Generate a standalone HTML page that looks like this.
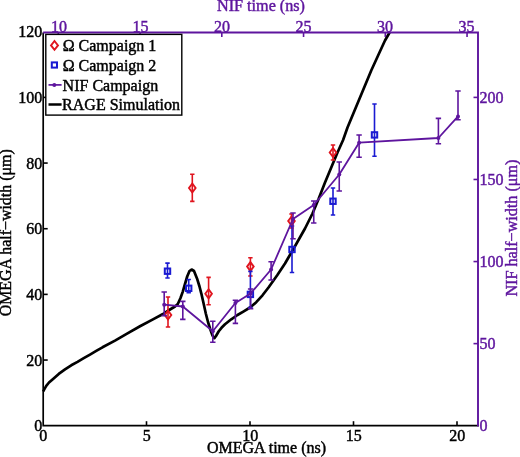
<!DOCTYPE html>
<html><head><meta charset="utf-8"><title>Half-width vs time</title>
<style>html,body{margin:0;padding:0;background:#fff}svg{display:block}text{font-family:"Liberation Serif",serif;font-size:16px;stroke-width:0.45px}.k{fill:#000;stroke:#000}.p{fill:#5e159e;stroke:#5e159e}.t{font-size:16px}</style></head><body>
<svg width="520" height="457" viewBox="0 0 520 457">
<rect width="520" height="457" fill="#fff"/>
<path d="M43.20 391.50 L44.50 389.00 L46.25 385.80 L49.00 382.50 L52.50 379.40 L58.75 373.90 L65.00 369.40 L71.25 365.30 L77.50 361.90 L83.75 358.20 L90.00 354.60 L96.25 350.90 L102.50 347.30 L115.00 340.60 L127.50 333.30 L140.00 326.30 L152.50 319.60 L162.50 314.30 L170.00 309.50 L175.00 306.50 L177.80 304.00 L180.50 298.00 L182.80 291.60 L185.00 284.00 L187.20 276.50 L189.50 271.00 L191.60 269.50 L194.00 271.00 L197.00 278.40 L199.50 286.50 L201.40 293.80 L203.50 303.00 L205.80 313.50 L208.00 322.00 L210.20 329.00 L212.50 335.50 L214.40 338.20 L216.00 336.00 L218.75 331.25 L221.50 327.80 L225.00 324.30 L231.25 319.30 L237.50 315.00 L243.75 311.30 L250.00 307.50 L256.25 302.20 L262.50 295.30 L268.50 287.50 L277.20 275.20 L285.00 263.50 L288.75 257.00 L296.25 244.00 L305.00 228.50 L312.50 213.50 L318.75 198.50 L325.00 182.50 L331.25 167.50 L337.50 152.50 L343.10 140.00 L347.50 127.50 L353.75 112.50 L360.00 97.50 L365.00 85.50 L371.25 70.50 L378.10 55.50 L385.00 40.50 L389.60 32.50" fill="none" stroke="#000" stroke-width="2.7" stroke-linejoin="round"/>
<path d="M168.00 297.00 V327.00 M165.80 297.00 H170.20 M165.80 327.00 H170.20" stroke="#e0141e" stroke-width="1.60" fill="none"/>
<path d="M168.00 310.50 L171.30 315.00 L168.00 319.50 L164.70 315.00 Z" fill="none" stroke="#e0141e" stroke-width="1.9"/>
<path d="M192.30 174.20 V201.40 M190.10 174.20 H194.50 M190.10 201.40 H194.50" stroke="#e0141e" stroke-width="1.60" fill="none"/>
<path d="M192.30 183.50 L195.60 188.00 L192.30 192.50 L189.00 188.00 Z" fill="none" stroke="#e0141e" stroke-width="1.9"/>
<path d="M208.60 277.40 V304.70 M206.40 277.40 H210.80 M206.40 304.70 H210.80" stroke="#e0141e" stroke-width="1.60" fill="none"/>
<path d="M208.60 289.30 L211.90 293.80 L208.60 298.30 L205.30 293.80 Z" fill="none" stroke="#e0141e" stroke-width="1.9"/>
<path d="M250.40 257.70 V276.00 M248.20 257.70 H252.60 M248.20 276.00 H252.60" stroke="#e0141e" stroke-width="1.60" fill="none"/>
<path d="M250.40 262.10 L253.70 266.60 L250.40 271.10 L247.10 266.60 Z" fill="none" stroke="#e0141e" stroke-width="1.9"/>
<path d="M291.50 214.00 V228.00 M289.30 214.00 H293.70 M289.30 228.00 H293.70" stroke="#e0141e" stroke-width="1.60" fill="none"/>
<path d="M291.50 216.50 L294.80 221.00 L291.50 225.50 L288.20 221.00 Z" fill="none" stroke="#e0141e" stroke-width="1.9"/>
<path d="M333.00 145.00 V160.00 M330.80 145.00 H335.20 M330.80 160.00 H335.20" stroke="#e0141e" stroke-width="1.60" fill="none"/>
<path d="M333.00 148.00 L336.30 152.50 L333.00 157.00 L329.70 152.50 Z" fill="none" stroke="#e0141e" stroke-width="1.9"/>
<path d="M167.50 263.10 V278.00 M165.30 263.10 H169.70 M165.30 278.00 H169.70" stroke="#1a1ad2" stroke-width="1.60" fill="none"/>
<rect x="164.80" y="268.50" width="5.40" height="5.40" fill="none" stroke="#1a1ad2" stroke-width="2"/>
<path d="M188.70 279.50 V292.70 M186.50 279.50 H190.90 M186.50 292.70 H190.90" stroke="#1a1ad2" stroke-width="1.60" fill="none"/>
<rect x="186.00" y="285.60" width="5.40" height="5.40" fill="none" stroke="#1a1ad2" stroke-width="2"/>
<path d="M250.40 271.40 V307.50 M248.20 271.40 H252.60 M248.20 307.50 H252.60" stroke="#1a1ad2" stroke-width="1.60" fill="none"/>
<rect x="247.70" y="291.70" width="5.40" height="5.40" fill="none" stroke="#1a1ad2" stroke-width="2"/>
<path d="M292.00 226.00 V272.50 M289.80 226.00 H294.20 M289.80 272.50 H294.20" stroke="#1a1ad2" stroke-width="1.60" fill="none"/>
<rect x="289.30" y="246.80" width="5.40" height="5.40" fill="none" stroke="#1a1ad2" stroke-width="2"/>
<path d="M333.00 188.00 V215.00 M330.80 188.00 H335.20 M330.80 215.00 H335.20" stroke="#1a1ad2" stroke-width="1.60" fill="none"/>
<rect x="330.30" y="198.55" width="5.40" height="5.40" fill="none" stroke="#1a1ad2" stroke-width="2"/>
<path d="M374.50 104.00 V156.30 M372.30 104.00 H376.70 M372.30 156.30 H376.70" stroke="#1a1ad2" stroke-width="1.60" fill="none"/>
<rect x="371.80" y="132.20" width="5.40" height="5.40" fill="none" stroke="#1a1ad2" stroke-width="2"/>
<path d="M164.20 292.00 V315.60 M161.50 292.00 H166.90 M161.50 315.60 H166.90" stroke="#5e159e" stroke-width="1.60" fill="none"/>
<path d="M182.80 301.40 V319.40 M180.10 301.40 H185.50 M180.10 319.40 H185.50" stroke="#5e159e" stroke-width="1.60" fill="none"/>
<path d="M212.80 321.30 V342.20 M210.10 321.30 H215.50 M210.10 342.20 H215.50" stroke="#5e159e" stroke-width="1.60" fill="none"/>
<path d="M235.40 300.20 V323.40 M232.70 300.20 H238.10 M232.70 323.40 H238.10" stroke="#5e159e" stroke-width="1.60" fill="none"/>
<path d="M250.60 289.00 V308.60 M247.90 289.00 H253.30 M247.90 308.60 H253.30" stroke="#5e159e" stroke-width="1.60" fill="none"/>
<path d="M271.10 261.70 V280.00 M268.40 261.70 H273.80 M268.40 280.00 H273.80" stroke="#5e159e" stroke-width="1.60" fill="none"/>
<path d="M293.00 213.00 V238.75 M290.30 213.00 H295.70 M290.30 238.75 H295.70" stroke="#5e159e" stroke-width="1.60" fill="none"/>
<path d="M313.75 201.00 V223.00 M311.05 201.00 H316.45 M311.05 223.00 H316.45" stroke="#5e159e" stroke-width="1.60" fill="none"/>
<path d="M339.25 162.00 V191.00 M336.55 162.00 H341.95 M336.55 191.00 H341.95" stroke="#5e159e" stroke-width="1.60" fill="none"/>
<path d="M359.10 135.00 V157.20 M356.40 135.00 H361.80 M356.40 157.20 H361.80" stroke="#5e159e" stroke-width="1.60" fill="none"/>
<path d="M438.40 118.40 V143.80 M435.70 118.40 H441.10 M435.70 143.80 H441.10" stroke="#5e159e" stroke-width="1.60" fill="none"/>
<path d="M458.00 91.00 V119.80 M455.30 91.00 H460.70 M455.30 119.80 H460.70" stroke="#5e159e" stroke-width="1.60" fill="none"/>
<path d="M164.20 304.70 L182.80 306.50 L212.80 331.20 L235.40 303.00 L250.60 293.50 L271.10 269.50 L293.00 219.00 L313.75 205.00 L339.25 174.50 L359.10 142.70 L438.40 138.00 L458.00 116.40" fill="none" stroke="#5e159e" stroke-width="1.8" stroke-linejoin="round"/>
<circle cx="164.20" cy="304.70" r="2" fill="#5e159e"/>
<circle cx="182.80" cy="306.50" r="2" fill="#5e159e"/>
<circle cx="212.80" cy="331.20" r="2" fill="#5e159e"/>
<circle cx="235.40" cy="303.00" r="2" fill="#5e159e"/>
<circle cx="250.60" cy="293.50" r="2" fill="#5e159e"/>
<circle cx="271.10" cy="269.50" r="2" fill="#5e159e"/>
<circle cx="293.00" cy="219.00" r="2" fill="#5e159e"/>
<circle cx="313.75" cy="205.00" r="2" fill="#5e159e"/>
<circle cx="339.25" cy="174.50" r="2" fill="#5e159e"/>
<circle cx="359.10" cy="142.70" r="2" fill="#5e159e"/>
<circle cx="438.40" cy="138.00" r="2" fill="#5e159e"/>
<circle cx="458.00" cy="116.40" r="2" fill="#5e159e"/>
<path d="M43.20 32.50 V425.70 H478.75" fill="none" stroke="#000" stroke-width="1.7"/>
<path d="M43.20 32.50 H478.00 V426.45" fill="none" stroke="#5e159e" stroke-width="1.9"/>
<text class="k" x="43.30" y="441.2" text-anchor="middle">0</text>
<path d="M146.50 425.70 v-4.5" stroke="#000" stroke-width="1.6"/>
<text class="k" x="146.80" y="441.2" text-anchor="middle">5</text>
<path d="M250.00 425.70 v-4.5" stroke="#000" stroke-width="1.6"/>
<text class="k" x="250.30" y="441.2" text-anchor="middle">10</text>
<path d="M353.50 425.70 v-4.5" stroke="#000" stroke-width="1.6"/>
<text class="k" x="353.80" y="441.2" text-anchor="middle">15</text>
<path d="M457.00 425.70 v-4.5" stroke="#000" stroke-width="1.6"/>
<text class="k" x="457.30" y="441.2" text-anchor="middle">20</text>
<text class="k" x="42.2" y="431.30" text-anchor="end">0</text>
<path d="M43.20 360.04 h4.5" stroke="#000" stroke-width="1.6"/>
<text class="k" x="42.2" y="365.64" text-anchor="end">20</text>
<path d="M43.20 294.38 h4.5" stroke="#000" stroke-width="1.6"/>
<text class="k" x="42.2" y="299.98" text-anchor="end">40</text>
<path d="M43.20 228.72 h4.5" stroke="#000" stroke-width="1.6"/>
<text class="k" x="42.2" y="234.32" text-anchor="end">60</text>
<path d="M43.20 163.06 h4.5" stroke="#000" stroke-width="1.6"/>
<text class="k" x="42.2" y="168.66" text-anchor="end">80</text>
<path d="M43.20 97.40 h4.5" stroke="#000" stroke-width="1.6"/>
<text class="k" x="42.2" y="103.00" text-anchor="end">100</text>
<text class="k" x="42.2" y="37.34" text-anchor="end">120</text>
<path d="M58.30 32.50 v4.5" stroke="#5e159e" stroke-width="1.6"/>
<text class="p" x="59.10" y="31.6" text-anchor="middle">10</text>
<path d="M140.05 32.50 v4.5" stroke="#5e159e" stroke-width="1.6"/>
<text class="p" x="140.60" y="31.6" text-anchor="middle">15</text>
<path d="M221.80 32.50 v4.5" stroke="#5e159e" stroke-width="1.6"/>
<text class="p" x="222.10" y="31.6" text-anchor="middle">20</text>
<path d="M303.55 32.50 v4.5" stroke="#5e159e" stroke-width="1.6"/>
<text class="p" x="303.60" y="31.6" text-anchor="middle">25</text>
<path d="M385.30 32.50 v4.5" stroke="#5e159e" stroke-width="1.6"/>
<text class="p" x="385.10" y="31.6" text-anchor="middle">30</text>
<path d="M467.05 32.50 v4.5" stroke="#5e159e" stroke-width="1.6"/>
<text class="p" x="466.60" y="31.6" text-anchor="middle">35</text>
<text class="p" x="479.6" y="431.30">0</text>
<path d="M478.00 343.62 h-4.5" stroke="#5e159e" stroke-width="1.6"/>
<text class="p" x="479.6" y="349.23">50</text>
<path d="M478.00 261.55 h-4.5" stroke="#5e159e" stroke-width="1.6"/>
<text class="p" x="479.6" y="267.15">100</text>
<path d="M478.00 179.47 h-4.5" stroke="#5e159e" stroke-width="1.6"/>
<text class="p" x="479.6" y="185.07">150</text>
<path d="M478.00 97.40 h-4.5" stroke="#5e159e" stroke-width="1.6"/>
<text class="p" x="479.6" y="103.00">200</text>
<text class="k t" x="266.5" y="453.3" text-anchor="middle">OMEGA time (ns)</text>
<text class="p t" x="261" y="11.2" text-anchor="middle" textLength="88" lengthAdjust="spacingAndGlyphs">NIF time (ns)</text>
<text class="k t" transform="translate(11.1,232.8) rotate(-90)" text-anchor="middle" textLength="167" lengthAdjust="spacingAndGlyphs">OMEGA half−width (μm)</text>
<text class="p t" transform="translate(516.7,228.1) rotate(-90)" text-anchor="middle" textLength="137" lengthAdjust="spacingAndGlyphs">NIF half−width (μm)</text>
<rect x="45.8" y="34.4" width="136" height="80.7" fill="#fff" stroke="#000" stroke-width="1.4"/>
<path d="M54.50 41.00 L58.00 45.40 L54.50 49.80 L51.00 45.40 Z" fill="none" stroke="#e0141e" stroke-width="1.9"/>
<rect x="51.80" y="62.40" width="5.20" height="5.20" fill="none" stroke="#1a1ad2" stroke-width="2"/>
<path d="M48.5 84.90 H61.6" stroke="#5e159e" stroke-width="1.7"/><circle cx="54.3" cy="84.90" r="2" fill="#5e159e"/>
<path d="M48.5 104.50 H61.6" stroke="#000" stroke-width="2.5"/>
<text class="k t" x="62.70" y="51.00">Ω Campaign 1</text>
<text class="k t" x="62.70" y="70.70">Ω Campaign 2</text>
<text class="k t" x="62.60" y="90.60">NIF Campaign</text>
<text class="k t" x="62.10" y="110.10">RAGE Simulation</text>
</svg></body></html>
